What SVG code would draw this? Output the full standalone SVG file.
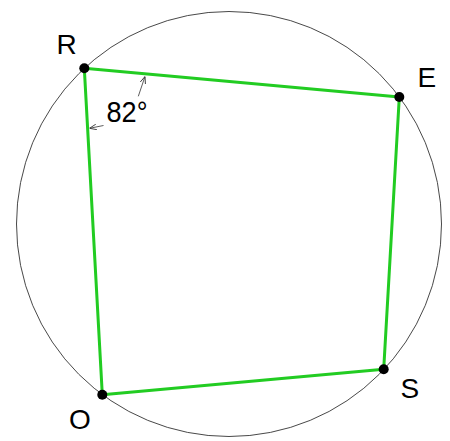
<svg xmlns="http://www.w3.org/2000/svg" width="450" height="441" viewBox="0 0 450 441">
<defs>
<style>
.lbl{font-family:"Liberation Sans",Arial,sans-serif;font-size:28px;fill:#000}
.edge{stroke:#22cc22;stroke-width:3;fill:none;stroke-linecap:round}
.dot{fill:#000}
.ptr{stroke:#333;stroke-width:0.8;fill:none}
</style>
<marker id="ah" viewBox="0 0 10 10" refX="10" refY="5" markerWidth="7" markerHeight="7" orient="auto" markerUnits="userSpaceOnUse">
<path d="M0,1 L10,5 L0,9" fill="none" stroke="#333" stroke-width="1.2"/>
</marker>
</defs>
<rect width="450" height="441" fill="#fff"/>
<circle cx="229" cy="224" r="212.5" fill="none" stroke="#333" stroke-width="0.9"/>
<g id="connectors">
<line class="edge" x1="84.3" y1="68.3" x2="399.3" y2="97"/>
<line class="edge" x1="399.3" y1="97" x2="383.7" y2="369.3"/>
<line class="edge" x1="383.7" y1="369.3" x2="102.3" y2="394.7"/>
<line class="edge" x1="102.3" y1="394.7" x2="84.3" y2="68.3"/>
<line class="ptr" x1="138.3" y1="96.3" x2="145" y2="76.5" marker-end="url(#ah)"/>
<line class="ptr" x1="103.5" y1="125.5" x2="89.5" y2="128.3" marker-end="url(#ah)"/>
</g>
<g id="R"><circle class="dot" cx="84.3" cy="68.3" r="5"/><text class="lbl" x="56.5" y="54">R</text></g>
<g id="E"><circle class="dot" cx="399.3" cy="97" r="5"/><text class="lbl" x="417.5" y="86.5">E</text></g>
<g id="S"><circle class="dot" cx="383.7" cy="369.3" r="5"/><text class="lbl" x="400.5" y="398">S</text></g>
<g id="O"><circle class="dot" cx="102.3" cy="394.7" r="5"/><text class="lbl" x="69" y="429">O</text></g>
<g id="angle"><text class="lbl" x="106.5" y="122" style="font-size:30px" textLength="41" lengthAdjust="spacingAndGlyphs">82°</text></g>
</svg>
